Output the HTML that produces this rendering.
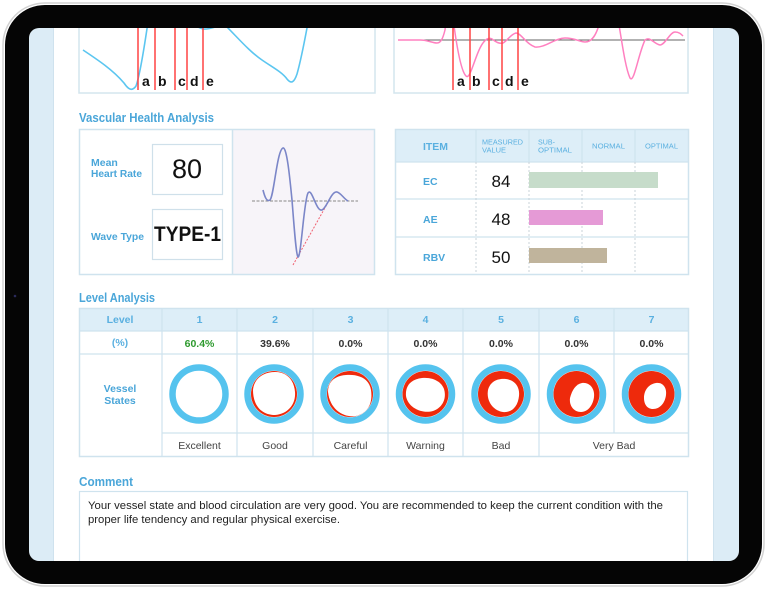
<!DOCTYPE html>
<html>
<head>
<meta charset="utf-8">
<style>
html,body{margin:0;padding:0;background:#fff;}
svg{display:block;}
text{font-family:"Liberation Sans",sans-serif;}
</style>
</head>
<body>
<svg width="768" height="589" viewBox="0 0 768 589" xmlns="http://www.w3.org/2000/svg">
<defs>
<clipPath id="scr"><rect x="29" y="28" width="710" height="533" rx="10" ry="10"/></clipPath>
</defs>
<rect x="0" y="0" width="768" height="589" fill="#fff"/>
<g clip-path="url(#scr)">
<!-- screen -->
<rect x="29" y="28" width="710" height="533" fill="#dcecf6"/>
<rect x="54" y="28" width="659" height="533" fill="#ffffff"/>
<line x1="53.5" y1="28" x2="53.5" y2="561" stroke="#cfe2ee" stroke-width="1"/>
<line x1="713.5" y1="28" x2="713.5" y2="561" stroke="#cfe2ee" stroke-width="1"/>

<!-- top left chart -->
<rect x="79" y="0" width="296" height="93" fill="none" stroke="#d4e5ee" stroke-width="1.5"/>
<path d="M83,50 C98,60 113,70 124,83 C128,89 132,92 136,86 C140,75 144,50 149,15 L160,5 C175,10 190,25 203,29 C212,30 218,24 226,26 C238,38 250,52 262,60 C272,67 282,72 287,79 C291,84 294,83 297,74 C301,60 304,44 307,28 L309,10" fill="none" stroke="#5cc6f0" stroke-width="1.6"/>
<g stroke="#ff4444" stroke-width="1.5">
<line x1="138" y1="20" x2="138" y2="90"/>
<line x1="155" y1="20" x2="155" y2="90"/>
<line x1="175" y1="20" x2="175" y2="90"/>
<line x1="187" y1="20" x2="187" y2="90"/>
<line x1="203" y1="20" x2="203" y2="90"/>
</g>
<g font-size="14" font-weight="bold" fill="#111">
<text x="142" y="86">a</text>
<text x="158" y="86">b</text>
<text x="178" y="86">c</text>
<text x="190" y="86">d</text>
<text x="206" y="86">e</text>
</g>

<!-- top right chart -->
<rect x="394" y="0" width="294" height="93" fill="none" stroke="#d4e5ee" stroke-width="1.5"/>
<line x1="398" y1="40" x2="685" y2="40" stroke="#666" stroke-width="1"/>
<path d="M398,40 L420,40 C428,40 432,43 437,43 C441,43 443,38 445,30 L447,10 L452,10 C455,35 460,70 466,76 C470,80 474,60 480,48 C484,40 488,37 492,39 C496,42 499,44 503,43 C507,41 511,34 516,33 C521,33 526,44 535,47 C545,48 555,38 565,38 C575,38 580,42 585,42 C592,42 596,35 599,25 L602,10 L616,10 C620,25 624,65 630,78 C634,84 638,55 645,40 C650,36 654,44 660,45 C665,45 670,32 675,32 C679,32 681,34 683,36" fill="none" stroke="#ff80c0" stroke-width="1.5"/>
<g stroke="#ff4444" stroke-width="1.5">
<line x1="453" y1="20" x2="453" y2="90"/>
<line x1="470" y1="20" x2="470" y2="90"/>
<line x1="489" y1="20" x2="489" y2="90"/>
<line x1="502" y1="20" x2="502" y2="90"/>
<line x1="518" y1="20" x2="518" y2="90"/>
</g>
<g font-size="14" font-weight="bold" fill="#111">
<text x="457" y="86">a</text>
<text x="472" y="86">b</text>
<text x="492" y="86">c</text>
<text x="505" y="86">d</text>
<text x="521" y="86">e</text>
</g>

<!-- Vascular Health Analysis -->
<text x="79" y="122" font-size="12.5" font-weight="bold" fill="#4aa6d9" textLength="135" lengthAdjust="spacingAndGlyphs">Vascular Health Analysis</text>
<rect x="233" y="130" width="141" height="144" fill="#f7f4f9"/>
<rect x="79.5" y="129.5" width="295" height="145" fill="none" stroke="#cfe3ee" stroke-width="1.5"/>
<line x1="232.5" y1="129.5" x2="232.5" y2="274.5" stroke="#cfe3ee" stroke-width="1.5"/>
<g font-size="10.5" font-weight="bold" fill="#4aa6d9">
<text x="91" y="166">Mean</text>
<text x="91" y="177" textLength="51" lengthAdjust="spacingAndGlyphs">Heart Rate</text>
<text x="91" y="240" textLength="53" lengthAdjust="spacingAndGlyphs">Wave Type</text>
</g>
<rect x="152.5" y="144.5" width="70" height="50" fill="#fff" stroke="#cfe0ea" stroke-width="1.2"/>
<rect x="152.5" y="209.5" width="70" height="50" fill="#fff" stroke="#cfe0ea" stroke-width="1.2"/>
<text x="187" y="178" font-size="27" fill="#111" text-anchor="middle">80</text>
<text x="154" y="241" font-size="21" font-weight="bold" fill="#111" textLength="67" lengthAdjust="spacingAndGlyphs">TYPE-1</text>
<!-- waveform -->
<line x1="252" y1="201" x2="358" y2="201" stroke="#888" stroke-width="1" stroke-dasharray="3,1.5"/>
<line x1="293" y1="265" x2="331" y2="197" stroke="#f06070" stroke-width="1" stroke-dasharray="2,1.5"/>
<path d="M263,190 C265,198 267,202 270,200 C274,196 277,150 283,148 C287,147 290,180 292,200 C294,225 296,255 298,257 C301,258 304,200 308,193 C312,187 316,212 322,210 C327,208 331,191 337,192 C341,193 344,199 348,201" fill="none" stroke="#7b86c8" stroke-width="1.6"/>

<!-- right table -->
<rect x="395" y="129" width="294" height="33" fill="#ddeef8"/>
<rect x="395.5" y="129.5" width="293" height="145" fill="none" stroke="#cfe3ee" stroke-width="1.5"/>
<g stroke="#cfe3ee" stroke-width="1.2">
<line x1="395" y1="162" x2="689" y2="162"/>
<line x1="395" y1="199" x2="689" y2="199"/>
<line x1="395" y1="237" x2="689" y2="237"/>
<line x1="476" y1="129" x2="476" y2="162"/>
<line x1="529" y1="129" x2="529" y2="162"/>
<line x1="582" y1="129" x2="582" y2="162"/>
<line x1="635" y1="129" x2="635" y2="162"/>
</g>
<g stroke="#c8d3da" stroke-width="1" stroke-dasharray="2,2">
<line x1="476" y1="162" x2="476" y2="274"/>
<line x1="529" y1="162" x2="529" y2="274"/>
<line x1="582" y1="162" x2="582" y2="274"/>
<line x1="635" y1="162" x2="635" y2="274"/>
</g>
<g fill="#5ab0e0">
<text x="423" y="150" font-size="10.5" font-weight="bold" textLength="25" lengthAdjust="spacingAndGlyphs">ITEM</text>
<text x="482" y="144.5" font-size="7" textLength="41" lengthAdjust="spacingAndGlyphs">MEASURED</text>
<text x="482" y="152.5" font-size="7" textLength="24" lengthAdjust="spacingAndGlyphs">VALUE</text>
<text x="538" y="144.5" font-size="7" textLength="17" lengthAdjust="spacingAndGlyphs">SUB-</text>
<text x="538" y="152.5" font-size="7" textLength="34" lengthAdjust="spacingAndGlyphs">OPTIMAL</text>
<text x="592" y="148.5" font-size="7" textLength="33" lengthAdjust="spacingAndGlyphs">NORMAL</text>
<text x="645" y="148.5" font-size="7" textLength="33" lengthAdjust="spacingAndGlyphs">OPTIMAL</text>
</g>
<g fill="#4aa6d9" font-size="10.5" font-weight="bold">
<text x="423" y="185">EC</text>
<text x="423" y="223">AE</text>
<text x="423" y="261">RBV</text>
</g>
<g fill="#111" font-size="17" text-anchor="middle">
<text x="501" y="187">84</text>
<text x="501" y="225">48</text>
<text x="501" y="263">50</text>
</g>
<rect x="529" y="172" width="129" height="16" fill="#c6dcca"/>
<rect x="529" y="210" width="74" height="15" fill="#e59ad6"/>
<rect x="529" y="248" width="78" height="15" fill="#c0b49c"/>

<!-- Level Analysis -->
<text x="79" y="302" font-size="12.5" font-weight="bold" fill="#4aa6d9" textLength="76" lengthAdjust="spacingAndGlyphs">Level Analysis</text>
<rect x="79" y="308" width="610" height="23" fill="#ddeef8"/>
<rect x="79.5" y="308.5" width="609" height="148" fill="none" stroke="#cfe3ee" stroke-width="1.5"/>
<g stroke="#cfe3ee" stroke-width="1.2">
<line x1="79" y1="331" x2="689" y2="331"/>
<line x1="79" y1="354" x2="689" y2="354"/>
<line x1="162" y1="433" x2="689" y2="433"/>
<line x1="162" y1="308" x2="162" y2="457"/>
<line x1="237" y1="308" x2="237" y2="457"/>
<line x1="313" y1="308" x2="313" y2="457"/>
<line x1="388" y1="308" x2="388" y2="457"/>
<line x1="463" y1="308" x2="463" y2="457"/>
<line x1="539" y1="308" x2="539" y2="457"/>
<line x1="614" y1="308" x2="614" y2="433"/>
</g>
<g fill="#5ab0e0" font-size="10.5" font-weight="bold" text-anchor="middle">
<text x="120" y="323">Level</text>
<text x="199.5" y="323">1</text>
<text x="275" y="323">2</text>
<text x="350.5" y="323">3</text>
<text x="425.5" y="323">4</text>
<text x="501" y="323">5</text>
<text x="576.5" y="323">6</text>
<text x="651.5" y="323">7</text>
<text x="120" y="346">(%)</text>
</g>
<g fill="#4aa6d9" font-size="10.5" font-weight="bold" text-anchor="middle">
<text x="120" y="392">Vessel</text>
<text x="120" y="404">States</text>
</g>
<text x="199.5" y="347" font-size="10.5" font-weight="bold" fill="#2e9a2e" text-anchor="middle">60.4%</text>
<g fill="#333" font-size="10.5" font-weight="bold" text-anchor="middle">
<text x="275" y="347">39.6%</text>
<text x="350.5" y="347">0.0%</text>
<text x="425.5" y="347">0.0%</text>
<text x="501" y="347">0.0%</text>
<text x="576.5" y="347">0.0%</text>
<text x="651.5" y="347">0.0%</text>
</g>
<g fill="#444" font-size="10.5" text-anchor="middle">
<text x="199.5" y="449">Excellent</text>
<text x="275" y="449">Good</text>
<text x="350.5" y="449">Careful</text>
<text x="425.5" y="449">Warning</text>
<text x="501" y="449">Bad</text>
<text x="614" y="449">Very Bad</text>
</g>

<!-- vessels -->
<g>
<circle cx="199" cy="394" r="26.5" fill="#fff" stroke="#55c3ee" stroke-width="6.5"/>
<circle cx="274" cy="394" r="26.5" fill="#fff" stroke="#55c3ee" stroke-width="6.5"/>
<circle cx="274" cy="394" r="23" fill="#ee2a0c"/>
<path d="M253,390 C254,378 264,372 275,372 C287,372 294,380 295,392 C296,404 288,414 275,415 C262,415 253,406 253,390 Z" fill="#fff"/>
<circle cx="350" cy="394" r="26.5" fill="#fff" stroke="#55c3ee" stroke-width="6.5"/>
<circle cx="350" cy="394" r="23" fill="#ee2a0c"/>
<path d="M328,392 C328,382 334,376 346,375 C358,374 369,378 371,390 C373,403 368,413 356,416 C344,418 330,410 328,392 Z" fill="#fff"/>
<circle cx="425.5" cy="394" r="26.5" fill="#fff" stroke="#55c3ee" stroke-width="6.5"/>
<circle cx="425.5" cy="394" r="23" fill="#ee2a0c"/>
<path d="M406,396 C405,385 412,379 422,378 C432,377 441,381 444,389 C447,399 442,408 433,411 C422,414 408,408 406,396 Z" fill="#fff"/>
<circle cx="501" cy="394" r="26.5" fill="#fff" stroke="#55c3ee" stroke-width="6.5"/>
<circle cx="501" cy="394" r="23" fill="#ee2a0c"/>
<path d="M488,390 C490,382 497,378 506,379 C514,380 520,386 519,396 C518,406 512,413 503,412 C494,411 486,402 488,390 Z" fill="#fff"/>
<circle cx="576.5" cy="394" r="26.5" fill="#fff" stroke="#55c3ee" stroke-width="6.5"/>
<circle cx="576.5" cy="394" r="23" fill="#ee2a0c"/>
<path d="M570,398 C572,390 576,384 582,383 C589,382 595,388 594,397 C593,405 588,412 581,412 C574,412 569,406 570,398 Z" fill="#fff"/>
<circle cx="651.5" cy="394" r="26.5" fill="#fff" stroke="#55c3ee" stroke-width="6.5"/>
<circle cx="651.5" cy="394" r="23" fill="#ee2a0c"/>
<path d="M644,398 C644,390 649,384 656,383 C663,382 667,388 666,395 C665,403 660,409 653,409 C647,409 644,404 644,398 Z" fill="#fff"/>
</g>

<!-- Comment -->
<text x="79" y="486" font-size="12.5" font-weight="bold" fill="#4aa6d9" textLength="54" lengthAdjust="spacingAndGlyphs">Comment</text>
<rect x="79.5" y="491.5" width="608" height="100" fill="#fff" stroke="#cfe3ee" stroke-width="1.2"/>
<text x="88" y="509" font-size="11" fill="#222" textLength="575" lengthAdjust="spacingAndGlyphs">Your vessel state and blood circulation are very good. You are recommended to keep the current condition with the</text>
<text x="88" y="523" font-size="11" fill="#222" textLength="252" lengthAdjust="spacingAndGlyphs">proper life tendency and regular physical exercise.</text>
</g>

<!-- bezel -->
<rect x="3" y="3" width="761" height="583" rx="42" ry="42" fill="none" stroke="#d2d2d2" stroke-width="1.5"/>
<path fill-rule="evenodd" fill="#050505" d="M45,5 H722 A40,40 0 0 1 762,45 V544 A40,40 0 0 1 722,584 H45 A40,40 0 0 1 5,544 V45 A40,40 0 0 1 45,5 Z M39,28 H729 A10,10 0 0 1 739,38 V551 A10,10 0 0 1 729,561 H39 A10,10 0 0 1 29,551 V38 A10,10 0 0 1 39,28 Z"/>
<circle cx="15" cy="296" r="1.3" fill="#2a2a5a"/>
</svg>
</body>
</html>
